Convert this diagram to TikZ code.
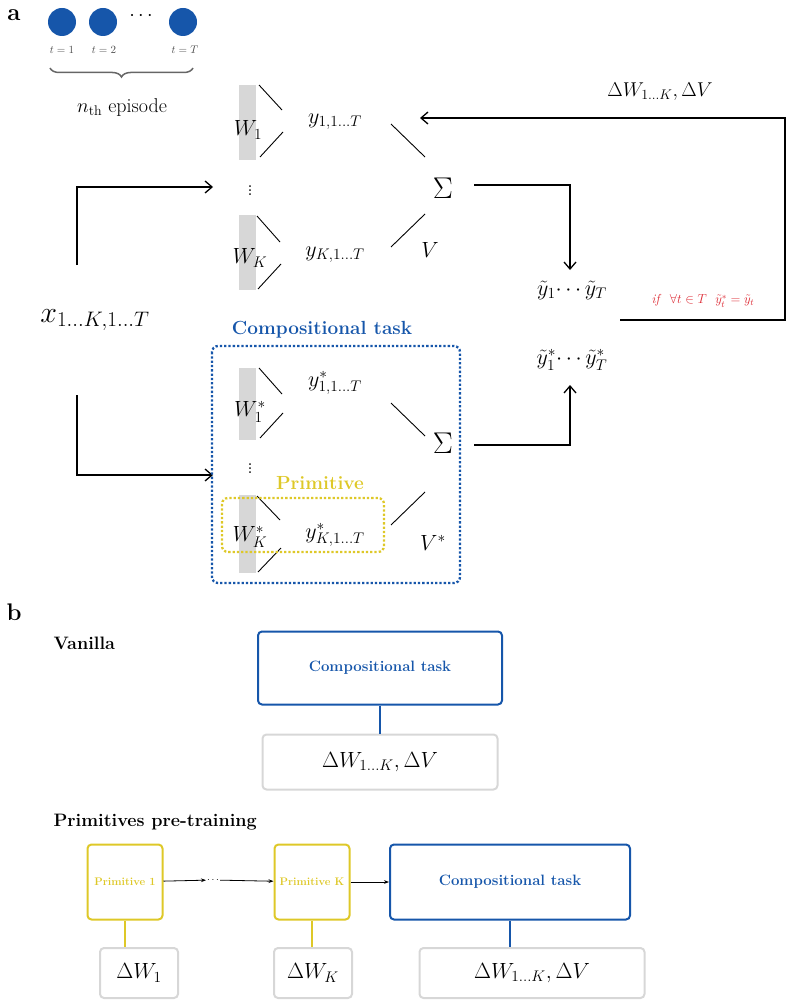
\RequirePackage{fix-cm}
\documentclass[tikz,border=0pt]{standalone}
\usepackage{fontspec}
\usetikzlibrary{decorations.pathreplacing,arrows.meta}
\definecolor{cblue}{RGB}{22,86,170}
\definecolor{cyel}{RGB}{222,200,40}
\definecolor{cred}{RGB}{220,40,50}
\definecolor{cgray}{RGB}{215,215,215}
\begin{document}
\begin{tikzpicture}[x=1pt,y=-1pt,
 arr/.style={-{Straight Barb[length=7pt,width=12pt]},line width=1.3pt},
 thin/.style={line width=0.9pt},
 bar/.style={fill=cgray,draw=none},
 big/.style={font=\fontsize{22}{24}\selectfont},
 bbox/.style={draw=cblue,line width=2pt,rounded corners=4pt,font=\fontsize{15}{17}\selectfont\bfseries,text=cblue},
 ybox/.style={draw=cyel,line width=2pt,rounded corners=4pt,font=\fontsize{11}{13}\selectfont\bfseries,text=cyel},
 gbox/.style={draw=cgray,line width=2pt,rounded corners=4pt,font=\fontsize{22}{24}\selectfont}]
\useasboundingbox (0,0) rectangle (791,1000);
\node[font=\fontsize{24}{26}\selectfont\bfseries] (la) at (14,15) {a};
\foreach \x/\n in {62/c1,103/c2,183/c3}{\fill[cblue] (\x,22) circle (14) coordinate (\n);}
\node[font=\fontsize{20}{20}\selectfont\bfseries] (dd) at (141,16) {$\cdots$};
\node[font=\fontsize{11}{12}\selectfont,text=black!70] (t1) at (62,50) {$t=1$};
\node[font=\fontsize{11}{12}\selectfont,text=black!70] (t2) at (104,50) {$t=2$};
\node[font=\fontsize{11}{12}\selectfont,text=black!70] (tT) at (185,50) {$t=T$};
\draw[decorate,decoration={brace,mirror,amplitude=9pt},line width=1.5pt,black!60] (50,68) -- (193,68);
\node[font=\fontsize{20}{22}\selectfont] (ep) at (122,108) {$n_{\mathrm{th}}$ episode};
% upper
\fill[bar] (239,85) rectangle (256,160);
\fill[bar] (239,215) rectangle (256,290);
\node[big] (W1) at (248,130) {$W_1$};
\node[big] (WK) at (250,258) {$W_K$};
\draw[thin] (259,85)--(282,110); \draw[thin] (260,157)--(283,132);
\draw[thin] (257,216)--(280,242); \draw[thin] (258,289)--(281,264);
\node[big] (y1) at (335,122) {$y_{1,1\ldots T}$};
\node[big] (yK) at (335,255) {$y_{K,1\ldots T}$};
\node[font=\fontsize{22}{22}\selectfont,inner sep=0pt] (vd) at (250,188) {$\vdots$};
\node[font=\fontsize{30}{30}\selectfont] (S1) at (443,188) {$\Sigma$};
\draw[thin] (391,124)--(425,157); \draw[thin] (425,214)--(391,247);
\node[big] (V) at (430,250) {$V$};
\node[font=\fontsize{30}{32}\selectfont] (x) at (95,320) {$x_{1\ldots K,1\ldots T}$};
\coordinate (xa) at (77,265); \coordinate (xb) at (77,395);
\draw[arr] (xa) |- (213,187);
\draw[arr] (xb) |- (213,475);
\node[big] (yt) at (572,290) {$\tilde y_1\mathbf{\cdots}\,\tilde y_T$};
\node[big] (yts) at (572,360) {$\tilde y^*_1\mathbf{\cdots}\,\tilde y^*_T$};
\draw[arr] (474,185) -| (570,270);
\node[font=\fontsize{13}{14}\selectfont,text=cred] (if) at (703,301) {\textit{if}\ \ $\forall t\in T\ \ \tilde y^*_t=\tilde y_t$};
\coordinate (fb) at (620,320);
\draw[arr] (fb) -- (785,320) -- (785,118) -- (420,118);
\node[font=\fontsize{20}{22}\selectfont] (dW) at (660,92) {$\Delta W_{1\ldots K},\Delta V$};
% lower
\node[font=\fontsize{19}{21}\selectfont\bfseries,text=cblue] (ct) at (322,330) {Compositional task};
\draw[cblue,line width=2.3pt,dotted,rounded corners=6pt] (212,346) rectangle (460,583);
\fill[bar] (239,368) rectangle (256,440);
\fill[bar] (239,495) rectangle (256,573);
\node[big] (W1s) at (250,412) {$W^*_1$};
\node[big] (WKs) at (250,537) {$W^*_K$};
\draw[thin] (259,368)--(282,394); \draw[thin] (260,438)--(283,413);
\draw[thin] (257,496)--(280,520); \draw[thin] (258,572)--(281,548);
\node[big] (y1s) at (335,383) {$y^*_{1,1\ldots T}$};
\node[big] (yKs) at (335,535) {$y^*_{K,1\ldots T}$};
\node[font=\fontsize{22}{22}\selectfont,inner sep=0pt] (vds) at (250,466) {$\vdots$};
\node[font=\fontsize{30}{30}\selectfont] (S2) at (443,443) {$\Sigma$};
\draw[thin] (391,403)--(425,436); \draw[thin] (425,492)--(391,525);
\node[big] (Vs) at (433,543) {$V^*$};
\node[font=\fontsize{19}{21}\selectfont\bfseries,text=cyel] (pr) at (320,483) {Primitive};
\draw[cyel,line width=2.3pt,dotted,rounded corners=6pt] (222,498) rectangle (384,552);
\draw[arr] (474,445) -| (570,385);
% b
\node[font=\fontsize{24}{26}\selectfont\bfseries] (lb) at (14,612) {b};
\node[font=\fontsize{18}{20}\selectfont\bfseries,anchor=west] (van) at (50,643) {Vanilla};
\node[bbox,minimum width=244pt,minimum height=73pt] (cb1) at (380,668) {Compositional task};
\node[gbox,minimum width=235pt,minimum height=55pt] (g1) at (380,762) {$\Delta W_{1\ldots K},\Delta V$};
\draw[cblue,line width=1.5pt] (cb1) -- (g1);
\node[font=\fontsize{18}{20}\selectfont\bfseries,anchor=west] (ppt) at (50,822) {Primitives pre-training};
\node[ybox,minimum width=75pt,minimum height=75pt,inner sep=1pt] (p1) at (125,882) {Primitive 1};
\node[ybox,minimum width=75pt,minimum height=75pt,inner sep=1pt] (pK) at (312,882) {Primitive K};
\node[bbox,minimum width=240pt,minimum height=75pt] (cb2) at (510,882) {Compositional task};
\node[inner sep=1pt] (md) at (213,880) {$\cdots$};
\draw[-{Stealth[length=5pt]},line width=0.8pt] (p1) -- (md);
\draw[-{Stealth[length=5pt]},line width=0.8pt] (md) -- (pK);
\draw[-{Stealth[length=5pt]},line width=0.8pt] (pK) -- (cb2);
\node[gbox,minimum width=78pt,minimum height=50pt] (g2) at (139,973) {$\Delta W_1$};
\node[gbox,minimum width=78pt,minimum height=50pt] (g3) at (313,973) {$\Delta W_K$};
\node[gbox,minimum width=225pt,minimum height=50pt] (g4) at (532,973) {$\Delta W_{1\ldots K},\Delta V$};
\draw[cyel,line width=1.5pt] (p1) -- (p1|-g2.north);
\draw[cyel,line width=1.5pt] (pK) -- (pK|-g3.north);
\draw[cblue,line width=1.5pt] (cb2) -- (cb2|-g4.north);
\end{tikzpicture}
\end{document}
